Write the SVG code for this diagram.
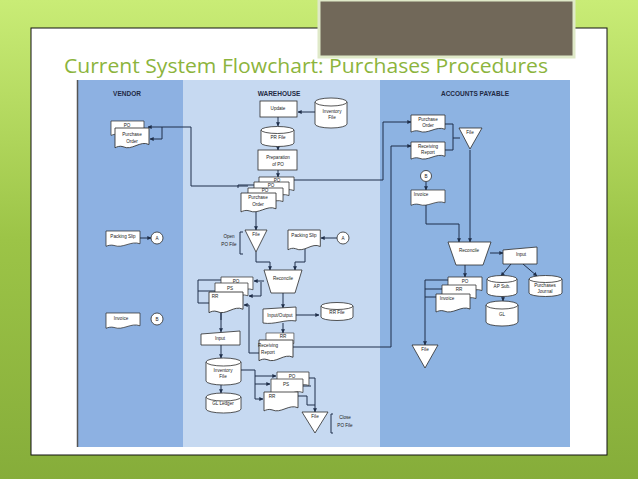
<svg xmlns="http://www.w3.org/2000/svg" xmlns:xlink="http://www.w3.org/1999/xlink" width="638" height="479" viewBox="0 0 638 479">
<style>
.s{fill:#fff;stroke:#2b2b2b;stroke-width:0.8}
.c{fill:none;stroke:#1f2f4a;stroke-width:1}
.t{font-family:"Liberation Sans",Arial,sans-serif;font-size:4.6px;fill:#222;text-anchor:middle}
.h{font-family:"Liberation Sans",Arial,sans-serif;font-size:6.5px;font-weight:bold;fill:#1f2a44;text-anchor:middle}
</style>
<defs>
<linearGradient id="bg" x1="0" y1="0" x2="0" y2="1"><stop offset="0" stop-color="#c9ec76"/><stop offset="0.5" stop-color="#9cc447"/><stop offset="1" stop-color="#86ad3a"/></linearGradient>
<marker id="a" viewBox="0 0 6 6" refX="5.5" refY="3" markerWidth="4" markerHeight="4" orient="auto"><path d="M0,0 L6,3 L0,6 Z" fill="#1f2f4a"/></marker>
<path id="doc" d="M0,0 H34 V15 C25,11 17,21 8,17 C5,16 2,17 0,18 Z"/>
</defs>
<rect width="638" height="479" fill="url(#bg)"/>
<rect x="31" y="28" width="576" height="427" fill="#fff" stroke="#111" stroke-width="1"/>
<rect x="319" y="0" width="255" height="57" fill="#716859" stroke="#dfe9c8" stroke-width="3"/>
<text x="64" y="73" font-family="'Open Sans','Liberation Sans',sans-serif" font-size="20.5" fill="#8cb43c" textLength="484" lengthAdjust="spacingAndGlyphs">Current System Flowchart: Purchases Procedures</text>
<g id="lanes">
<rect x="77" y="80" width="106" height="367" fill="#8db1e2"/>
<rect x="183" y="80" width="197" height="367" fill="#c6d9f1"/>
<rect x="380" y="80" width="190" height="367" fill="#8db3e2"/>
<line x1="77.5" y1="80" x2="77.5" y2="447" stroke="#555" stroke-width="1.5"/>
<text class="h" x="127" y="96">VENDOR</text>
<text class="h" x="279" y="96">WAREHOUSE</text>
<text class="h" x="475" y="96">ACCOUNTS PAYABLE</text>
</g>
<g id="connectors">
<path class="c" d="M315,112 H298" marker-end="url(#a)"/>
<path class="c" d="M278,117 V126" marker-end="url(#a)"/>
<path class="c" d="M278,146 V150" marker-end="url(#a)"/>
<path class="c" d="M278,170 V177" marker-end="url(#a)"/>
<path class="c" d="M259,185 H238 V188 M248,186 H191 V127 H148" marker-end="url(#a)"/>
<path class="c" d="M162,127 V139 H150" marker-end="url(#a)"/>
<path class="c" d="M294,180 H383 V122 H411" marker-end="url(#a)"/>
<path class="c" d="M256,212 V230" marker-end="url(#a)"/>
<path class="c" d="M140,238 H151" marker-end="url(#a)"/>
<path class="c" d="M337,238 H321" marker-end="url(#a)"/>
<path class="c" d="M240,232 H243 M240,232 V254 H243"/>
<path class="c" d="M256,252 V262 H270 V270" marker-end="url(#a)"/>
<path class="c" d="M305,249 V262 H295 V270" marker-end="url(#a)"/>
<path class="c" d="M264,281 H254" marker-end="url(#a)"/>
<path class="c" d="M261,282 V296 H249" marker-end="url(#a)"/>
<path class="c" d="M283,293 V308" marker-end="url(#a)"/>
<path class="c" d="M296,315 H319" marker-end="url(#a)"/>
<path class="c" d="M283,323 V333" marker-end="url(#a)"/>
<path class="c" d="M259,353 H249 V305 H244" marker-end="url(#a)"/>
<path class="c" d="M221,280 H198 V303 H209 M198,291 H215 M215,295 H221 M221,300 V320" />
<path class="c" d="M221,312 V332" marker-end="url(#a)"/>
<path class="c" d="M221,345 V358" marker-end="url(#a)"/>
<path class="c" d="M221,385 V393" marker-end="url(#a)"/>
<path class="c" d="M241,370 H255 V399 H263" marker-end="url(#a)"/>
<path class="c" d="M255,384 H270" marker-end="url(#a)"/>
<path class="c" d="M255,376 H276" marker-end="url(#a)"/>
<path class="c" d="M309,378 H315 V412" marker-end="url(#a)"/>
<path class="c" d="M303,386 H311 M298,396 H307 V405 H315"/>
<path class="c" d="M333,414 H331 V433 H333"/>
<path class="c" d="M293,347 H391 V146 H411" marker-end="url(#a)"/>
<path class="c" d="M445,124 H453 V150 H445 M453,138 H460"/>
<path class="c" d="M470,150 V242" marker-end="url(#a)"/>
<path class="c" d="M426,182 V190" marker-end="url(#a)"/>
<path class="c" d="M426,205 V224 H459 V242" marker-end="url(#a)"/>
<path class="c" d="M490,253 H503" marker-end="url(#a)"/>
<path class="c" d="M511,264 L501,276" marker-end="url(#a)"/>
<path class="c" d="M523,264 L537,276" marker-end="url(#a)"/>
<path class="c" d="M503,296 V301" marker-end="url(#a)"/>
<path class="c" d="M465,265 V277" marker-end="url(#a)"/>
<path class="c" d="M448,280 H425 V345" marker-end="url(#a)"/>
<path class="c" d="M425,289 H442 M425,297 H436"/>
</g>
<g id="vendor-po">
<use href="#doc" class="s" transform="translate(111,121) scale(0.97,0.8)"/>
<use href="#doc" class="s" transform="translate(115,128) scale(1,1.1)"/>
<text class="t" x="127" y="127">PO</text><text class="t" x="132" y="136">Purchase</text><text class="t" x="132" y="143">Order</text>
</g>
<g id="vendor-ps"><use href="#doc" class="s" transform="translate(106,231) scale(1,0.85)"/><text class="t" x="123" y="238">Packing Slip</text></g>
<g id="vendor-a"><circle class="s" cx="157" cy="238" r="6"/><text class="t" x="157" y="240">A</text></g>
<g id="vendor-inv"><use href="#doc" class="s" transform="translate(106,313) scale(1,0.85)"/><text class="t" x="121" y="320">Invoice</text></g>
<g id="vendor-b"><circle class="s" cx="157" cy="319" r="6"/><text class="t" x="157" y="321">B</text></g>
<g id="update"><rect class="s" x="260" y="101" width="37" height="16"/><text class="t" x="278" y="110">Update</text></g>
<g id="inv-file"><path class="s" d="M315,102 V124 A16,4 0 0 0 347,124 V102"/><ellipse class="s" cx="331" cy="102" rx="16" ry="4"/><text class="t" x="332" y="113">Inventory</text><text class="t" x="332" y="119">File</text></g>
<g id="pr-file"><path class="s" d="M261,130 V143 A16.5,3.5 0 0 0 294,143 V130"/><ellipse class="s" cx="277.5" cy="130" rx="16.5" ry="3.5"/><text class="t" x="278" y="139">PR File</text></g>
<g id="prep"><rect class="s" x="258" y="150" width="39" height="20"/><text class="t" x="278" y="159">Preparation</text><text class="t" x="278" y="166">of PO</text></g>
<g id="po-stack">
<use href="#doc" class="s" transform="translate(259,177) scale(1.03,0.9)"/>
<use href="#doc" class="s" transform="translate(254,182) scale(1.03,0.9)"/>
<use href="#doc" class="s" transform="translate(248,188) scale(1.03,0.9)"/>
<use href="#doc" class="s" transform="translate(241,193) scale(1.03,1.05)"/>
<text class="t" x="277" y="182">PO</text><text class="t" x="271" y="187">PO</text><text class="t" x="265" y="192">PO</text>
<text class="t" x="258" y="199">Purchase</text><text class="t" x="258" y="206">Order</text>
</g>
<g id="open-po"><path class="s" d="M245,230 H267 L256,252 Z"/><text class="t" x="256" y="236">File</text><text class="t" x="229" y="238">Open</text><text class="t" x="229" y="246">PO File</text></g>
<g id="wh-ps"><use href="#doc" class="s" transform="translate(288,230) scale(0.95,1.1)"/><text class="t" x="304" y="237">Packing Slip</text></g>
<g id="wh-a"><circle class="s" cx="343" cy="238" r="6"/><text class="t" x="343" y="240">A</text></g>
<g id="wh-reconcile"><path class="s" d="M264,270 H302 L295,293 H271 Z"/><text class="t" x="283" y="280">Reconcile</text></g>
<g id="wh-stack1">
<use href="#doc" class="s" transform="translate(221,277) scale(0.94,0.85)"/>
<use href="#doc" class="s" transform="translate(215,283) scale(0.97,0.85)"/>
<use href="#doc" class="s" transform="translate(209,292) scale(1,1.15)"/>
<text class="t" x="236" y="283">PO</text><text class="t" x="230" y="290">PS</text><text class="t" x="215" y="298">RR</text>
</g>
<g id="io"><path class="s" d="M263,309 L296,307 V321 C285,319 275,325 263,323 Z"/><text class="t" x="280" y="317">Input/Output</text></g>
<g id="rr-file"><path class="s" d="M321,306 V317 A16,3.5 0 0 0 353,317 V306"/><ellipse class="s" cx="337" cy="306" rx="16" ry="3.5"/><text class="t" x="337" y="314">RR File</text></g>
<g id="rr-doc">
<use href="#doc" class="s" transform="translate(266,333) scale(0.82,0.7)"/>
<use href="#doc" class="s" transform="translate(259,340) scale(1,1.15)"/>
<text class="t" x="283" y="338">RR</text><text class="t" x="268" y="347">Receiving</text><text class="t" x="268" y="354">Report</text>
</g>
<g id="wh-input"><path class="s" d="M201,334 L240,331 V345 H201 Z"/><text class="t" x="220" y="340">Input</text></g>
<g id="wh-inv-file"><path class="s" d="M206,362 V381 A17.5,4 0 0 0 241,381 V362"/><ellipse class="s" cx="223.5" cy="362" rx="17.5" ry="4"/><text class="t" x="223" y="372">Inventory</text><text class="t" x="223" y="378">File</text></g>
<g id="gl-ledger"><path class="s" d="M206,397 V409 A17.5,4 0 0 0 241,409 V397"/><ellipse class="s" cx="223.5" cy="397" rx="17.5" ry="4"/><text class="t" x="223" y="405">GL Ledger</text></g>
<g id="wh-stack2">
<use href="#doc" class="s" transform="translate(277,372) scale(0.94,0.9)"/>
<use href="#doc" class="s" transform="translate(271,379) scale(0.94,0.9)"/>
<use href="#doc" class="s" transform="translate(264,392) scale(1,1.05)"/>
<text class="t" x="292" y="378">PO</text><text class="t" x="286" y="386">PS</text><text class="t" x="272" y="398">RR</text>
</g>
<g id="close-po"><path class="s" d="M302,412 H328 L315,433 Z"/><text class="t" x="315" y="418">File</text><text class="t" x="345" y="419">Close</text><text class="t" x="345" y="427">PO File</text></g>
<g id="ap-po"><use href="#doc" class="s" transform="translate(411,115) scale(1,0.95)"/><text class="t" x="428" y="121">Purchase</text><text class="t" x="428" y="127">Order</text></g>
<g id="ap-rr"><use href="#doc" class="s" transform="translate(411,142) scale(1,0.95)"/><text class="t" x="428" y="148">Receiving</text><text class="t" x="428" y="154">Report</text></g>
<g id="ap-file1"><path class="s" d="M459,128 H482 L470,149 Z"/><text class="t" x="470" y="134">File</text></g>
<g id="ap-b"><circle class="s" cx="426" cy="176" r="5.5"/><text class="t" x="426" y="178">B</text></g>
<g id="ap-invoice"><use href="#doc" class="s" transform="translate(411,190) scale(1,0.85)"/><text class="t" x="421" y="196">Invoice</text></g>
<g id="ap-reconcile"><path class="s" d="M448,242 H491 L483,265 H456 Z"/><text class="t" x="469" y="252">Reconcile</text></g>
<g id="ap-input"><path class="s" d="M503,250 L537,247 V264 H503 Z"/><text class="t" x="521" y="256">Input</text></g>
<g id="ap-sub"><path class="s" d="M487,279 V293 A15,3.5 0 0 0 517,293 V279"/><ellipse class="s" cx="502" cy="279" rx="15" ry="3.5"/><text class="t" x="502" y="288">AP Sub.</text></g>
<g id="purch-journal"><path class="s" d="M529,279 V293 A16.5,3.5 0 0 0 562,293 V279"/><ellipse class="s" cx="545.5" cy="279" rx="16.5" ry="3.5"/><text class="t" x="545" y="287">Purchases</text><text class="t" x="545" y="293">Journal</text></g>
<g id="ap-gl"><path class="s" d="M486,305 V322 A16,4 0 0 0 518,322 V305"/><ellipse class="s" cx="502" cy="305" rx="16" ry="4"/><text class="t" x="502" y="316">GL</text></g>
<g id="ap-stack">
<use href="#doc" class="s" transform="translate(448,277) scale(1,0.9)"/>
<use href="#doc" class="s" transform="translate(442,285) scale(1,0.9)"/>
<use href="#doc" class="s" transform="translate(436,294) scale(1,1)"/>
<text class="t" x="465" y="283">PO</text><text class="t" x="459" y="291">RR</text><text class="t" x="447" y="300">Invoice</text>
</g>
<g id="ap-file2"><path class="s" d="M412,345 H438 L425,368 Z"/><text class="t" x="425" y="351">File</text></g>
</svg>
